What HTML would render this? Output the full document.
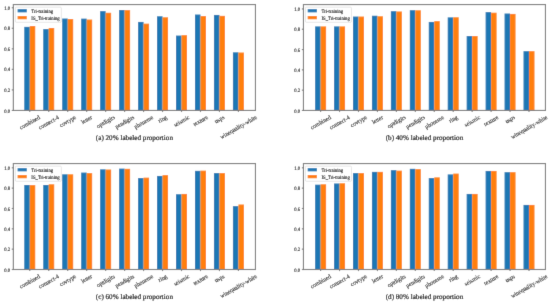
<!DOCTYPE html>
<html><head><meta charset="utf-8"><title>Tri-training vs IS_Tri-training</title><style>
html,body{margin:0;padding:0;background:#fff;width:550px;height:303px;overflow:hidden;}
svg{display:block;}
text{font-family:"Liberation Serif","Times New Roman",serif;fill:#000;stroke:#000;text-rendering:geometricPrecision;stroke-width:0.1px;}
text.c{stroke-width:0.16px;}
text.x{stroke-width:0.07px;}
</style></head><body>
<svg width="550" height="303" viewBox="0 0 550 303">
<defs><filter id="bl" x="0" y="0" width="550" height="303" filterUnits="userSpaceOnUse"><feConvolveMatrix order="3" kernelMatrix="0 1 0 1 8 1 0 1 0" divisor="12" edgeMode="duplicate"/></filter></defs>
<rect width="550" height="303" fill="#fff"/>
<g filter="url(#bl)">
<rect width="550" height="303" fill="#fff"/>
<rect x="24.25" y="26.85" width="5.50" height="83.60" fill="#1f77b4"/>
<rect x="29.75" y="26.03" width="5.50" height="84.42" fill="#ff7f0e"/>
<rect x="43.22" y="29.11" width="5.50" height="81.34" fill="#1f77b4"/>
<rect x="48.72" y="27.98" width="5.50" height="82.47" fill="#ff7f0e"/>
<rect x="62.19" y="18.53" width="5.50" height="91.92" fill="#1f77b4"/>
<rect x="67.69" y="19.05" width="5.50" height="91.40" fill="#ff7f0e"/>
<rect x="81.16" y="18.64" width="5.50" height="91.81" fill="#1f77b4"/>
<rect x="86.66" y="19.56" width="5.50" height="90.89" fill="#ff7f0e"/>
<rect x="100.13" y="11.14" width="5.50" height="99.31" fill="#1f77b4"/>
<rect x="105.63" y="12.78" width="5.50" height="97.67" fill="#ff7f0e"/>
<rect x="119.10" y="10.01" width="5.50" height="100.44" fill="#1f77b4"/>
<rect x="124.60" y="10.11" width="5.50" height="100.34" fill="#ff7f0e"/>
<rect x="138.07" y="21.92" width="5.50" height="88.53" fill="#1f77b4"/>
<rect x="143.57" y="23.67" width="5.50" height="86.78" fill="#ff7f0e"/>
<rect x="157.04" y="16.27" width="5.50" height="94.18" fill="#1f77b4"/>
<rect x="162.54" y="17.30" width="5.50" height="93.15" fill="#ff7f0e"/>
<rect x="176.01" y="35.58" width="5.50" height="74.87" fill="#1f77b4"/>
<rect x="181.51" y="35.17" width="5.50" height="75.28" fill="#ff7f0e"/>
<rect x="194.98" y="14.53" width="5.50" height="95.92" fill="#1f77b4"/>
<rect x="200.48" y="16.07" width="5.50" height="94.38" fill="#ff7f0e"/>
<rect x="213.95" y="14.94" width="5.50" height="95.51" fill="#1f77b4"/>
<rect x="219.45" y="15.86" width="5.50" height="94.59" fill="#ff7f0e"/>
<rect x="232.92" y="52.32" width="5.50" height="58.13" fill="#1f77b4"/>
<rect x="238.42" y="52.53" width="5.50" height="57.92" fill="#ff7f0e"/>
<line x1="11.75" y1="110.45" x2="13.35" y2="110.45" stroke="#7c7c7c" stroke-width="1.15"/>
<text transform="translate(9.95,110.80) scale(1,1.12)" y="1.56" text-anchor="end" font-size="4.6">0.0</text>
<line x1="11.75" y1="89.91" x2="13.35" y2="89.91" stroke="#7c7c7c" stroke-width="1.15"/>
<text transform="translate(9.95,90.26) scale(1,1.12)" y="1.56" text-anchor="end" font-size="4.6">0.2</text>
<line x1="11.75" y1="69.37" x2="13.35" y2="69.37" stroke="#7c7c7c" stroke-width="1.15"/>
<text transform="translate(9.95,69.72) scale(1,1.12)" y="1.56" text-anchor="end" font-size="4.6">0.4</text>
<line x1="11.75" y1="48.83" x2="13.35" y2="48.83" stroke="#7c7c7c" stroke-width="1.15"/>
<text transform="translate(9.95,49.18) scale(1,1.12)" y="1.56" text-anchor="end" font-size="4.6">0.6</text>
<line x1="11.75" y1="28.29" x2="13.35" y2="28.29" stroke="#7c7c7c" stroke-width="1.15"/>
<text transform="translate(9.95,28.64) scale(1,1.12)" y="1.56" text-anchor="end" font-size="4.6">0.8</text>
<line x1="11.75" y1="7.75" x2="13.35" y2="7.75" stroke="#7c7c7c" stroke-width="1.15"/>
<text transform="translate(9.95,8.10) scale(1,1.12)" y="1.56" text-anchor="end" font-size="4.6">1.0</text>
<line x1="29.75" y1="110.45" x2="29.75" y2="112.05" stroke="#7c7c7c" stroke-width="1.15"/>
<text transform="translate(29.75,122.31) rotate(-30) scale(1,1.07)" y="1.94" text-anchor="middle" class="x" font-size="5.7">combined</text>
<line x1="48.72" y1="110.45" x2="48.72" y2="112.05" stroke="#7c7c7c" stroke-width="1.15"/>
<text transform="translate(48.72,122.31) rotate(-30) scale(1,1.07)" y="1.94" text-anchor="middle" class="x" font-size="5.7">connect-4</text>
<line x1="67.69" y1="110.45" x2="67.69" y2="112.05" stroke="#7c7c7c" stroke-width="1.15"/>
<text transform="translate(67.69,121.20) rotate(-30) scale(1,1.07)" y="1.94" text-anchor="middle" class="x" font-size="5.7">covtype</text>
<line x1="86.66" y1="110.45" x2="86.66" y2="112.05" stroke="#7c7c7c" stroke-width="1.15"/>
<text transform="translate(86.66,119.61) rotate(-30) scale(1,1.07)" y="1.94" text-anchor="middle" class="x" font-size="5.7">letter</text>
<line x1="105.63" y1="110.45" x2="105.63" y2="112.05" stroke="#7c7c7c" stroke-width="1.15"/>
<text transform="translate(105.63,121.68) rotate(-30) scale(1,1.07)" y="1.94" text-anchor="middle" class="x" font-size="5.7">optdigits</text>
<line x1="124.60" y1="110.45" x2="124.60" y2="112.05" stroke="#7c7c7c" stroke-width="1.15"/>
<text transform="translate(124.60,121.91) rotate(-30) scale(1,1.07)" y="1.94" text-anchor="middle" class="x" font-size="5.7">pendigits</text>
<line x1="143.57" y1="110.45" x2="143.57" y2="112.05" stroke="#7c7c7c" stroke-width="1.15"/>
<text transform="translate(143.57,121.91) rotate(-30) scale(1,1.07)" y="1.94" text-anchor="middle" class="x" font-size="5.7">phoneme</text>
<line x1="162.54" y1="110.45" x2="162.54" y2="112.05" stroke="#7c7c7c" stroke-width="1.15"/>
<text transform="translate(162.54,118.98) rotate(-30) scale(1,1.07)" y="1.94" text-anchor="middle" class="x" font-size="5.7">ring</text>
<line x1="181.51" y1="110.45" x2="181.51" y2="112.05" stroke="#7c7c7c" stroke-width="1.15"/>
<text transform="translate(181.51,120.96) rotate(-30) scale(1,1.07)" y="1.94" text-anchor="middle" class="x" font-size="5.7">seismic</text>
<line x1="200.48" y1="110.45" x2="200.48" y2="112.05" stroke="#7c7c7c" stroke-width="1.15"/>
<text transform="translate(200.48,120.64) rotate(-30) scale(1,1.07)" y="1.94" text-anchor="middle" class="x" font-size="5.7">texture</text>
<line x1="219.45" y1="110.45" x2="219.45" y2="112.05" stroke="#7c7c7c" stroke-width="1.15"/>
<text transform="translate(219.45,119.22) rotate(-30) scale(1,1.07)" y="1.94" text-anchor="middle" class="x" font-size="5.7">usps</text>
<line x1="238.42" y1="110.45" x2="238.42" y2="112.05" stroke="#7c7c7c" stroke-width="1.15"/>
<text transform="translate(238.42,127.06) rotate(-30) scale(1,1.07)" y="1.94" text-anchor="middle" class="x" font-size="5.7">winequality-white</text>
<rect x="13.35" y="4.55" width="242.10" height="105.90" fill="none" stroke="#7c7c7c" stroke-width="1.15"/>
<rect x="15.35" y="7.15" width="46" height="15.1" rx="1" fill="#fff" fill-opacity="0.8" stroke="#ccc" stroke-width="0.5"/>
<rect x="17.60" y="9.15" width="9.2" height="3.2" fill="#1f77b4"/>
<rect x="17.60" y="16.05" width="9.2" height="3.2" fill="#ff7f0e"/>
<text transform="translate(31.35,11.25) scale(1,1.08)" y="1.60" font-size="4.72">Tri-training</text>
<text transform="translate(31.35,18.15) scale(1,1.08)" y="1.60" font-size="4.72">IS_Tri-training</text>
<text transform="translate(134.40,139.65)" text-anchor="middle" class="c" font-size="7.15">(a) 20% labeled proportion</text>
<rect x="315.10" y="26.41" width="5.50" height="84.04" fill="#1f77b4"/>
<rect x="320.60" y="26.41" width="5.50" height="84.04" fill="#ff7f0e"/>
<rect x="334.05" y="26.41" width="5.50" height="84.04" fill="#1f77b4"/>
<rect x="339.55" y="26.41" width="5.50" height="84.04" fill="#ff7f0e"/>
<rect x="352.99" y="16.56" width="5.50" height="93.89" fill="#1f77b4"/>
<rect x="358.49" y="16.56" width="5.50" height="93.89" fill="#ff7f0e"/>
<rect x="371.94" y="15.75" width="5.50" height="94.70" fill="#1f77b4"/>
<rect x="377.44" y="16.26" width="5.50" height="94.19" fill="#ff7f0e"/>
<rect x="390.88" y="11.18" width="5.50" height="99.27" fill="#1f77b4"/>
<rect x="396.38" y="11.49" width="5.50" height="98.96" fill="#ff7f0e"/>
<rect x="409.83" y="10.17" width="5.50" height="100.28" fill="#1f77b4"/>
<rect x="415.33" y="10.27" width="5.50" height="100.18" fill="#ff7f0e"/>
<rect x="428.77" y="21.94" width="5.50" height="88.51" fill="#1f77b4"/>
<rect x="434.27" y="21.13" width="5.50" height="89.32" fill="#ff7f0e"/>
<rect x="447.72" y="17.37" width="5.50" height="93.08" fill="#1f77b4"/>
<rect x="453.22" y="17.27" width="5.50" height="93.18" fill="#ff7f0e"/>
<rect x="466.66" y="36.05" width="5.50" height="74.40" fill="#1f77b4"/>
<rect x="472.16" y="36.05" width="5.50" height="74.40" fill="#ff7f0e"/>
<rect x="485.61" y="12.10" width="5.50" height="98.35" fill="#1f77b4"/>
<rect x="491.11" y="12.71" width="5.50" height="97.74" fill="#ff7f0e"/>
<rect x="504.55" y="13.52" width="5.50" height="96.93" fill="#1f77b4"/>
<rect x="510.05" y="13.92" width="5.50" height="96.53" fill="#ff7f0e"/>
<rect x="523.50" y="51.17" width="5.50" height="59.28" fill="#1f77b4"/>
<rect x="529.00" y="51.17" width="5.50" height="59.28" fill="#ff7f0e"/>
<line x1="301.85" y1="110.45" x2="303.45" y2="110.45" stroke="#7c7c7c" stroke-width="1.15"/>
<text transform="translate(300.05,110.80) scale(1,1.12)" y="1.56" text-anchor="end" font-size="4.6">0.0</text>
<line x1="301.85" y1="90.15" x2="303.45" y2="90.15" stroke="#7c7c7c" stroke-width="1.15"/>
<text transform="translate(300.05,90.50) scale(1,1.12)" y="1.56" text-anchor="end" font-size="4.6">0.2</text>
<line x1="301.85" y1="69.85" x2="303.45" y2="69.85" stroke="#7c7c7c" stroke-width="1.15"/>
<text transform="translate(300.05,70.20) scale(1,1.12)" y="1.56" text-anchor="end" font-size="4.6">0.4</text>
<line x1="301.85" y1="49.55" x2="303.45" y2="49.55" stroke="#7c7c7c" stroke-width="1.15"/>
<text transform="translate(300.05,49.90) scale(1,1.12)" y="1.56" text-anchor="end" font-size="4.6">0.6</text>
<line x1="301.85" y1="29.25" x2="303.45" y2="29.25" stroke="#7c7c7c" stroke-width="1.15"/>
<text transform="translate(300.05,29.60) scale(1,1.12)" y="1.56" text-anchor="end" font-size="4.6">0.8</text>
<line x1="301.85" y1="8.95" x2="303.45" y2="8.95" stroke="#7c7c7c" stroke-width="1.15"/>
<text transform="translate(300.05,9.30) scale(1,1.12)" y="1.56" text-anchor="end" font-size="4.6">1.0</text>
<line x1="320.60" y1="110.45" x2="320.60" y2="112.05" stroke="#7c7c7c" stroke-width="1.15"/>
<text transform="translate(320.60,122.31) rotate(-30) scale(1,1.07)" y="1.94" text-anchor="middle" class="x" font-size="5.7">combined</text>
<line x1="339.55" y1="110.45" x2="339.55" y2="112.05" stroke="#7c7c7c" stroke-width="1.15"/>
<text transform="translate(339.55,122.31) rotate(-30) scale(1,1.07)" y="1.94" text-anchor="middle" class="x" font-size="5.7">connect-4</text>
<line x1="358.49" y1="110.45" x2="358.49" y2="112.05" stroke="#7c7c7c" stroke-width="1.15"/>
<text transform="translate(358.49,121.20) rotate(-30) scale(1,1.07)" y="1.94" text-anchor="middle" class="x" font-size="5.7">covtype</text>
<line x1="377.44" y1="110.45" x2="377.44" y2="112.05" stroke="#7c7c7c" stroke-width="1.15"/>
<text transform="translate(377.44,119.61) rotate(-30) scale(1,1.07)" y="1.94" text-anchor="middle" class="x" font-size="5.7">letter</text>
<line x1="396.38" y1="110.45" x2="396.38" y2="112.05" stroke="#7c7c7c" stroke-width="1.15"/>
<text transform="translate(396.38,121.68) rotate(-30) scale(1,1.07)" y="1.94" text-anchor="middle" class="x" font-size="5.7">optdigits</text>
<line x1="415.33" y1="110.45" x2="415.33" y2="112.05" stroke="#7c7c7c" stroke-width="1.15"/>
<text transform="translate(415.33,121.91) rotate(-30) scale(1,1.07)" y="1.94" text-anchor="middle" class="x" font-size="5.7">pendigits</text>
<line x1="434.27" y1="110.45" x2="434.27" y2="112.05" stroke="#7c7c7c" stroke-width="1.15"/>
<text transform="translate(434.27,121.91) rotate(-30) scale(1,1.07)" y="1.94" text-anchor="middle" class="x" font-size="5.7">phoneme</text>
<line x1="453.22" y1="110.45" x2="453.22" y2="112.05" stroke="#7c7c7c" stroke-width="1.15"/>
<text transform="translate(453.22,118.98) rotate(-30) scale(1,1.07)" y="1.94" text-anchor="middle" class="x" font-size="5.7">ring</text>
<line x1="472.16" y1="110.45" x2="472.16" y2="112.05" stroke="#7c7c7c" stroke-width="1.15"/>
<text transform="translate(472.16,120.96) rotate(-30) scale(1,1.07)" y="1.94" text-anchor="middle" class="x" font-size="5.7">seismic</text>
<line x1="491.11" y1="110.45" x2="491.11" y2="112.05" stroke="#7c7c7c" stroke-width="1.15"/>
<text transform="translate(491.11,120.64) rotate(-30) scale(1,1.07)" y="1.94" text-anchor="middle" class="x" font-size="5.7">texture</text>
<line x1="510.05" y1="110.45" x2="510.05" y2="112.05" stroke="#7c7c7c" stroke-width="1.15"/>
<text transform="translate(510.05,119.22) rotate(-30) scale(1,1.07)" y="1.94" text-anchor="middle" class="x" font-size="5.7">usps</text>
<line x1="529.00" y1="110.45" x2="529.00" y2="112.05" stroke="#7c7c7c" stroke-width="1.15"/>
<text transform="translate(529.00,127.06) rotate(-30) scale(1,1.07)" y="1.94" text-anchor="middle" class="x" font-size="5.7">winequality-white</text>
<rect x="303.45" y="4.55" width="242.00" height="105.90" fill="none" stroke="#7c7c7c" stroke-width="1.15"/>
<rect x="305.45" y="7.15" width="46" height="15.1" rx="1" fill="#fff" fill-opacity="0.8" stroke="#ccc" stroke-width="0.5"/>
<rect x="307.70" y="9.15" width="9.2" height="3.2" fill="#1f77b4"/>
<rect x="307.70" y="16.05" width="9.2" height="3.2" fill="#ff7f0e"/>
<text transform="translate(321.45,11.25) scale(1,1.08)" y="1.60" font-size="4.72">Tri-training</text>
<text transform="translate(321.45,18.15) scale(1,1.08)" y="1.60" font-size="4.72">IS_Tri-training</text>
<text transform="translate(424.45,139.65)" text-anchor="middle" class="c" font-size="7.15">(b) 40% labeled proportion</text>
<rect x="24.25" y="184.99" width="5.50" height="84.51" fill="#1f77b4"/>
<rect x="29.75" y="185.09" width="5.50" height="84.41" fill="#ff7f0e"/>
<rect x="43.22" y="184.99" width="5.50" height="84.51" fill="#1f77b4"/>
<rect x="48.72" y="184.28" width="5.50" height="85.22" fill="#ff7f0e"/>
<rect x="62.19" y="174.31" width="5.50" height="95.19" fill="#1f77b4"/>
<rect x="67.69" y="174.31" width="5.50" height="95.19" fill="#ff7f0e"/>
<rect x="81.16" y="172.58" width="5.50" height="96.92" fill="#1f77b4"/>
<rect x="86.66" y="173.09" width="5.50" height="96.41" fill="#ff7f0e"/>
<rect x="100.13" y="169.33" width="5.50" height="100.17" fill="#1f77b4"/>
<rect x="105.63" y="169.53" width="5.50" height="99.97" fill="#ff7f0e"/>
<rect x="119.10" y="168.61" width="5.50" height="100.89" fill="#1f77b4"/>
<rect x="124.60" y="168.82" width="5.50" height="100.68" fill="#ff7f0e"/>
<rect x="138.07" y="178.07" width="5.50" height="91.43" fill="#1f77b4"/>
<rect x="143.57" y="177.66" width="5.50" height="91.84" fill="#ff7f0e"/>
<rect x="157.04" y="175.94" width="5.50" height="93.56" fill="#1f77b4"/>
<rect x="162.54" y="175.12" width="5.50" height="94.38" fill="#ff7f0e"/>
<rect x="176.01" y="194.24" width="5.50" height="75.26" fill="#1f77b4"/>
<rect x="181.51" y="193.94" width="5.50" height="75.56" fill="#ff7f0e"/>
<rect x="194.98" y="170.85" width="5.50" height="98.65" fill="#1f77b4"/>
<rect x="200.48" y="170.65" width="5.50" height="98.85" fill="#ff7f0e"/>
<rect x="213.95" y="173.09" width="5.50" height="96.41" fill="#1f77b4"/>
<rect x="219.45" y="173.09" width="5.50" height="96.41" fill="#ff7f0e"/>
<rect x="232.92" y="206.14" width="5.50" height="63.36" fill="#1f77b4"/>
<rect x="238.42" y="204.51" width="5.50" height="64.99" fill="#ff7f0e"/>
<line x1="11.75" y1="269.50" x2="13.35" y2="269.50" stroke="#7c7c7c" stroke-width="1.15"/>
<text transform="translate(9.95,269.85) scale(1,1.12)" y="1.56" text-anchor="end" font-size="4.6">0.0</text>
<line x1="11.75" y1="249.16" x2="13.35" y2="249.16" stroke="#7c7c7c" stroke-width="1.15"/>
<text transform="translate(9.95,249.51) scale(1,1.12)" y="1.56" text-anchor="end" font-size="4.6">0.2</text>
<line x1="11.75" y1="228.82" x2="13.35" y2="228.82" stroke="#7c7c7c" stroke-width="1.15"/>
<text transform="translate(9.95,229.17) scale(1,1.12)" y="1.56" text-anchor="end" font-size="4.6">0.4</text>
<line x1="11.75" y1="208.48" x2="13.35" y2="208.48" stroke="#7c7c7c" stroke-width="1.15"/>
<text transform="translate(9.95,208.83) scale(1,1.12)" y="1.56" text-anchor="end" font-size="4.6">0.6</text>
<line x1="11.75" y1="188.14" x2="13.35" y2="188.14" stroke="#7c7c7c" stroke-width="1.15"/>
<text transform="translate(9.95,188.49) scale(1,1.12)" y="1.56" text-anchor="end" font-size="4.6">0.8</text>
<line x1="11.75" y1="167.80" x2="13.35" y2="167.80" stroke="#7c7c7c" stroke-width="1.15"/>
<text transform="translate(9.95,168.15) scale(1,1.12)" y="1.56" text-anchor="end" font-size="4.6">1.0</text>
<line x1="29.75" y1="269.50" x2="29.75" y2="271.10" stroke="#7c7c7c" stroke-width="1.15"/>
<text transform="translate(29.75,281.36) rotate(-30) scale(1,1.07)" y="1.94" text-anchor="middle" class="x" font-size="5.7">combined</text>
<line x1="48.72" y1="269.50" x2="48.72" y2="271.10" stroke="#7c7c7c" stroke-width="1.15"/>
<text transform="translate(48.72,281.36) rotate(-30) scale(1,1.07)" y="1.94" text-anchor="middle" class="x" font-size="5.7">connect-4</text>
<line x1="67.69" y1="269.50" x2="67.69" y2="271.10" stroke="#7c7c7c" stroke-width="1.15"/>
<text transform="translate(67.69,280.25) rotate(-30) scale(1,1.07)" y="1.94" text-anchor="middle" class="x" font-size="5.7">covtype</text>
<line x1="86.66" y1="269.50" x2="86.66" y2="271.10" stroke="#7c7c7c" stroke-width="1.15"/>
<text transform="translate(86.66,278.66) rotate(-30) scale(1,1.07)" y="1.94" text-anchor="middle" class="x" font-size="5.7">letter</text>
<line x1="105.63" y1="269.50" x2="105.63" y2="271.10" stroke="#7c7c7c" stroke-width="1.15"/>
<text transform="translate(105.63,280.73) rotate(-30) scale(1,1.07)" y="1.94" text-anchor="middle" class="x" font-size="5.7">optdigits</text>
<line x1="124.60" y1="269.50" x2="124.60" y2="271.10" stroke="#7c7c7c" stroke-width="1.15"/>
<text transform="translate(124.60,280.96) rotate(-30) scale(1,1.07)" y="1.94" text-anchor="middle" class="x" font-size="5.7">pendigits</text>
<line x1="143.57" y1="269.50" x2="143.57" y2="271.10" stroke="#7c7c7c" stroke-width="1.15"/>
<text transform="translate(143.57,280.96) rotate(-30) scale(1,1.07)" y="1.94" text-anchor="middle" class="x" font-size="5.7">phoneme</text>
<line x1="162.54" y1="269.50" x2="162.54" y2="271.10" stroke="#7c7c7c" stroke-width="1.15"/>
<text transform="translate(162.54,278.03) rotate(-30) scale(1,1.07)" y="1.94" text-anchor="middle" class="x" font-size="5.7">ring</text>
<line x1="181.51" y1="269.50" x2="181.51" y2="271.10" stroke="#7c7c7c" stroke-width="1.15"/>
<text transform="translate(181.51,280.01) rotate(-30) scale(1,1.07)" y="1.94" text-anchor="middle" class="x" font-size="5.7">seismic</text>
<line x1="200.48" y1="269.50" x2="200.48" y2="271.10" stroke="#7c7c7c" stroke-width="1.15"/>
<text transform="translate(200.48,279.69) rotate(-30) scale(1,1.07)" y="1.94" text-anchor="middle" class="x" font-size="5.7">texture</text>
<line x1="219.45" y1="269.50" x2="219.45" y2="271.10" stroke="#7c7c7c" stroke-width="1.15"/>
<text transform="translate(219.45,278.27) rotate(-30) scale(1,1.07)" y="1.94" text-anchor="middle" class="x" font-size="5.7">usps</text>
<line x1="238.42" y1="269.50" x2="238.42" y2="271.10" stroke="#7c7c7c" stroke-width="1.15"/>
<text transform="translate(238.42,286.11) rotate(-30) scale(1,1.07)" y="1.94" text-anchor="middle" class="x" font-size="5.7">winequality-white</text>
<rect x="13.35" y="163.55" width="242.10" height="105.95" fill="none" stroke="#7c7c7c" stroke-width="1.15"/>
<rect x="15.35" y="166.15" width="46" height="15.1" rx="1" fill="#fff" fill-opacity="0.8" stroke="#ccc" stroke-width="0.5"/>
<rect x="17.60" y="168.15" width="9.2" height="3.2" fill="#1f77b4"/>
<rect x="17.60" y="175.05" width="9.2" height="3.2" fill="#ff7f0e"/>
<text transform="translate(31.35,170.25) scale(1,1.08)" y="1.60" font-size="4.72">Tri-training</text>
<text transform="translate(31.35,177.15) scale(1,1.08)" y="1.60" font-size="4.72">IS_Tri-training</text>
<text transform="translate(134.40,298.70)" text-anchor="middle" class="c" font-size="7.15">(c) 60% labeled proportion</text>
<rect x="315.10" y="184.68" width="5.50" height="84.82" fill="#1f77b4"/>
<rect x="320.60" y="184.28" width="5.50" height="85.22" fill="#ff7f0e"/>
<rect x="334.05" y="183.46" width="5.50" height="86.04" fill="#1f77b4"/>
<rect x="339.55" y="183.26" width="5.50" height="86.24" fill="#ff7f0e"/>
<rect x="352.99" y="173.09" width="5.50" height="96.41" fill="#1f77b4"/>
<rect x="358.49" y="173.09" width="5.50" height="96.41" fill="#ff7f0e"/>
<rect x="371.94" y="171.87" width="5.50" height="97.63" fill="#1f77b4"/>
<rect x="377.44" y="171.87" width="5.50" height="97.63" fill="#ff7f0e"/>
<rect x="390.88" y="170.14" width="5.50" height="99.36" fill="#1f77b4"/>
<rect x="396.38" y="170.65" width="5.50" height="98.85" fill="#ff7f0e"/>
<rect x="409.83" y="168.82" width="5.50" height="100.68" fill="#1f77b4"/>
<rect x="415.33" y="169.12" width="5.50" height="100.38" fill="#ff7f0e"/>
<rect x="428.77" y="178.07" width="5.50" height="91.43" fill="#1f77b4"/>
<rect x="434.27" y="177.36" width="5.50" height="92.14" fill="#ff7f0e"/>
<rect x="447.72" y="174.41" width="5.50" height="95.09" fill="#1f77b4"/>
<rect x="453.22" y="173.60" width="5.50" height="95.90" fill="#ff7f0e"/>
<rect x="466.66" y="193.94" width="5.50" height="75.56" fill="#1f77b4"/>
<rect x="472.16" y="193.94" width="5.50" height="75.56" fill="#ff7f0e"/>
<rect x="485.61" y="170.95" width="5.50" height="98.55" fill="#1f77b4"/>
<rect x="491.11" y="170.95" width="5.50" height="98.55" fill="#ff7f0e"/>
<rect x="504.55" y="172.17" width="5.50" height="97.33" fill="#1f77b4"/>
<rect x="510.05" y="172.17" width="5.50" height="97.33" fill="#ff7f0e"/>
<rect x="523.50" y="204.92" width="5.50" height="64.58" fill="#1f77b4"/>
<rect x="529.00" y="204.92" width="5.50" height="64.58" fill="#ff7f0e"/>
<line x1="301.85" y1="269.50" x2="303.45" y2="269.50" stroke="#7c7c7c" stroke-width="1.15"/>
<text transform="translate(300.05,269.85) scale(1,1.12)" y="1.56" text-anchor="end" font-size="4.6">0.0</text>
<line x1="301.85" y1="249.16" x2="303.45" y2="249.16" stroke="#7c7c7c" stroke-width="1.15"/>
<text transform="translate(300.05,249.51) scale(1,1.12)" y="1.56" text-anchor="end" font-size="4.6">0.2</text>
<line x1="301.85" y1="228.82" x2="303.45" y2="228.82" stroke="#7c7c7c" stroke-width="1.15"/>
<text transform="translate(300.05,229.17) scale(1,1.12)" y="1.56" text-anchor="end" font-size="4.6">0.4</text>
<line x1="301.85" y1="208.48" x2="303.45" y2="208.48" stroke="#7c7c7c" stroke-width="1.15"/>
<text transform="translate(300.05,208.83) scale(1,1.12)" y="1.56" text-anchor="end" font-size="4.6">0.6</text>
<line x1="301.85" y1="188.14" x2="303.45" y2="188.14" stroke="#7c7c7c" stroke-width="1.15"/>
<text transform="translate(300.05,188.49) scale(1,1.12)" y="1.56" text-anchor="end" font-size="4.6">0.8</text>
<line x1="301.85" y1="167.80" x2="303.45" y2="167.80" stroke="#7c7c7c" stroke-width="1.15"/>
<text transform="translate(300.05,168.15) scale(1,1.12)" y="1.56" text-anchor="end" font-size="4.6">1.0</text>
<line x1="320.60" y1="269.50" x2="320.60" y2="271.10" stroke="#7c7c7c" stroke-width="1.15"/>
<text transform="translate(320.60,281.36) rotate(-30) scale(1,1.07)" y="1.94" text-anchor="middle" class="x" font-size="5.7">combined</text>
<line x1="339.55" y1="269.50" x2="339.55" y2="271.10" stroke="#7c7c7c" stroke-width="1.15"/>
<text transform="translate(339.55,281.36) rotate(-30) scale(1,1.07)" y="1.94" text-anchor="middle" class="x" font-size="5.7">connect-4</text>
<line x1="358.49" y1="269.50" x2="358.49" y2="271.10" stroke="#7c7c7c" stroke-width="1.15"/>
<text transform="translate(358.49,280.25) rotate(-30) scale(1,1.07)" y="1.94" text-anchor="middle" class="x" font-size="5.7">covtype</text>
<line x1="377.44" y1="269.50" x2="377.44" y2="271.10" stroke="#7c7c7c" stroke-width="1.15"/>
<text transform="translate(377.44,278.66) rotate(-30) scale(1,1.07)" y="1.94" text-anchor="middle" class="x" font-size="5.7">letter</text>
<line x1="396.38" y1="269.50" x2="396.38" y2="271.10" stroke="#7c7c7c" stroke-width="1.15"/>
<text transform="translate(396.38,280.73) rotate(-30) scale(1,1.07)" y="1.94" text-anchor="middle" class="x" font-size="5.7">optdigits</text>
<line x1="415.33" y1="269.50" x2="415.33" y2="271.10" stroke="#7c7c7c" stroke-width="1.15"/>
<text transform="translate(415.33,280.96) rotate(-30) scale(1,1.07)" y="1.94" text-anchor="middle" class="x" font-size="5.7">pendigits</text>
<line x1="434.27" y1="269.50" x2="434.27" y2="271.10" stroke="#7c7c7c" stroke-width="1.15"/>
<text transform="translate(434.27,280.96) rotate(-30) scale(1,1.07)" y="1.94" text-anchor="middle" class="x" font-size="5.7">phoneme</text>
<line x1="453.22" y1="269.50" x2="453.22" y2="271.10" stroke="#7c7c7c" stroke-width="1.15"/>
<text transform="translate(453.22,278.03) rotate(-30) scale(1,1.07)" y="1.94" text-anchor="middle" class="x" font-size="5.7">ring</text>
<line x1="472.16" y1="269.50" x2="472.16" y2="271.10" stroke="#7c7c7c" stroke-width="1.15"/>
<text transform="translate(472.16,280.01) rotate(-30) scale(1,1.07)" y="1.94" text-anchor="middle" class="x" font-size="5.7">seismic</text>
<line x1="491.11" y1="269.50" x2="491.11" y2="271.10" stroke="#7c7c7c" stroke-width="1.15"/>
<text transform="translate(491.11,279.69) rotate(-30) scale(1,1.07)" y="1.94" text-anchor="middle" class="x" font-size="5.7">texture</text>
<line x1="510.05" y1="269.50" x2="510.05" y2="271.10" stroke="#7c7c7c" stroke-width="1.15"/>
<text transform="translate(510.05,278.27) rotate(-30) scale(1,1.07)" y="1.94" text-anchor="middle" class="x" font-size="5.7">usps</text>
<line x1="529.00" y1="269.50" x2="529.00" y2="271.10" stroke="#7c7c7c" stroke-width="1.15"/>
<text transform="translate(529.00,286.11) rotate(-30) scale(1,1.07)" y="1.94" text-anchor="middle" class="x" font-size="5.7">winequality-white</text>
<rect x="303.45" y="163.55" width="242.00" height="105.95" fill="none" stroke="#7c7c7c" stroke-width="1.15"/>
<rect x="305.45" y="166.15" width="46" height="15.1" rx="1" fill="#fff" fill-opacity="0.8" stroke="#ccc" stroke-width="0.5"/>
<rect x="307.70" y="168.15" width="9.2" height="3.2" fill="#1f77b4"/>
<rect x="307.70" y="175.05" width="9.2" height="3.2" fill="#ff7f0e"/>
<text transform="translate(321.45,170.25) scale(1,1.08)" y="1.60" font-size="4.72">Tri-training</text>
<text transform="translate(321.45,177.15) scale(1,1.08)" y="1.60" font-size="4.72">IS_Tri-training</text>
<text transform="translate(424.45,298.70)" text-anchor="middle" class="c" font-size="7.15">(d) 80% labeled proportion</text>
</g>
</svg>
</body></html>
